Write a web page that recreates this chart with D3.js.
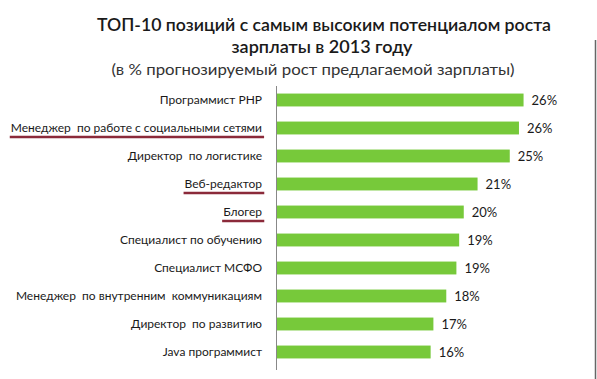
<!DOCTYPE html>
<html><head><meta charset="utf-8">
<script src="https://cdn.jsdelivr.net/npm/d3@7"></script>
<style>body{margin:0;background:#fff}svg{display:block}</style>
</head><body>
<svg id="c" width="597" height="379"></svg>
<script>
const categories = ["Программист PHP","Менеджер  по работе с социальными сетями","Директор  по логистике","Веб-редактор","Блогер","Специалист по обучению","Специалист МСФО","Менеджер  по внутренним  коммуникациям","Директор  по развитию","Java программист"];
const values = [26.8, 26.3, 25.3, 21.8, 20.3, 19.8, 19.5, 18.4, 17.0, 16.7];
const valueLabels = ["26%","26%","25%","21%","20%","19%","19%","18%","17%","16%"];
const underlined = [false,true,false,true,true,false,false,false,false,false];
const titleLines = ["ТОП-10 позиций с самым высоким потенциалом роста","зарплаты  в 2013 году"];
const subtitle = "(в % прогнозируемый рост предлагаемой зарплаты)";

const svg = d3.select("#c");
const font = "Lato, 'Open Sans', sans-serif";
const x = d3.scaleLinear().domain([0, 30]).range([277, 553]);
const y = d3.scaleBand().domain(categories).range([86, 366]).paddingInner(0.54).paddingOuter(0.27);

function fit(sel, w){ sel.each(function(){ const l=this.getComputedTextLength(); if(l>0) d3.select(this).attr("textLength", w).attr("lengthAdjust","spacingAndGlyphs"); }); }

svg.append("text").attr("x",324).attr("y",31).attr("text-anchor","middle")
  .attr("font-family",font).attr("font-size",17.5).attr("font-weight",600).attr("fill","#1a1a1a")
  .text(titleLines[0]).call(fit,454);
svg.append("text").attr("x",322).attr("y",53).attr("text-anchor","middle")
  .attr("font-family",font).attr("font-size",17.5).attr("font-weight",600).attr("fill","#1a1a1a")
  .text(titleLines[1]).call(fit,181);
svg.append("text").attr("x",313).attr("y",75).attr("text-anchor","middle")
  .attr("font-family",font).attr("font-size",15).attr("font-weight",400).attr("fill","#333")
  .text(subtitle).call(fit,403);

// right border
svg.append("line").attr("x1",595.5).attr("x2",595.5).attr("y1",40).attr("y2",379).attr("stroke","#666").attr("stroke-width",1.5);

svg.selectAll("rect.bar").data(values).join("rect").attr("class","bar")
  .attr("x", x(0)).attr("y",(d,i)=>y(categories[i])).attr("height", y.bandwidth())
  .attr("width", d=>x(d)-x(0)).attr("fill","#77c93a");

svg.append("line").attr("x1",276.5).attr("x2",276.5).attr("y1",86).attr("y2",370).attr("stroke","#888").attr("stroke-width",1);

const lab = svg.selectAll("g.lab").data(categories).join("g").attr("class","lab");
lab.append("text").attr("x",262).attr("y",d=>y(d)+y.bandwidth()/2+4)
  .attr("text-anchor","end").attr("font-family",font).attr("font-size",12).attr("fill","#1a1a1a")
  .attr("xml:space","preserve").style("white-space","pre")
  .text(d=>d);
lab.each(function(d,i){
  if(!underlined[i]) return;
  const t = d3.select(this).select("text").node().getBBox();
  d3.select(this).append("line").attr("x1",t.x-1).attr("x2",t.x+t.width+2)
    .attr("y1",y(d)+y.bandwidth()/2+9).attr("y2",y(d)+y.bandwidth()/2+9)
    .attr("stroke","#8b2a3a").attr("stroke-width",2.5);
});

svg.selectAll("text.val").data(values).join("text").attr("class","val")
  .attr("x",d=>x(d)+8).attr("y",(d,i)=>y(categories[i])+y.bandwidth()/2+4.5)
  .attr("font-family",font).attr("font-size",13).attr("fill","#1a1a1a")
  .text((d,i)=>valueLabels[i]);
</script>
</body></html>
